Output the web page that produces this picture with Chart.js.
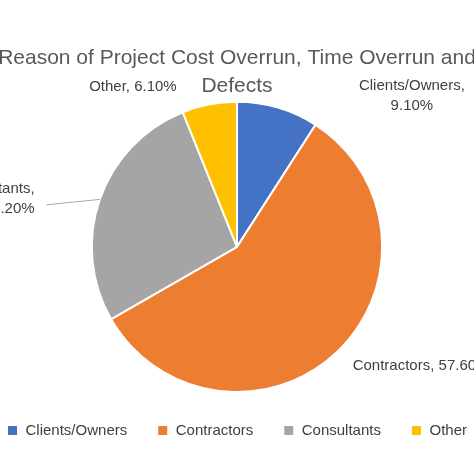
<!DOCTYPE html>
<html>
<head>
<meta charset="utf-8">
<script src="https://cdn.jsdelivr.net/npm/chart.js@4/dist/chart.umd.min.js"></script>
<style>
  html, body { margin: 0; padding: 0; overflow: hidden; background: #fff; }
  #wrap { position: absolute; left: -63px; top: 0; width: 600px; height: 474px; }
</style>
</head>
<body>
<div id="wrap"><canvas id="chart"></canvas></div>
<script>
// ======== Data ========
const categories = ['Clients/Owners', 'Contractors', 'Consultants', 'Other'];
const shares = [9.1, 57.6, 27.2, 6.1];
const colours = ['#4472C4', '#ED7D31', '#A5A5A5', '#FFC000'];

// outside labels with leader lines, placed from each arc's mid angle
const outsideLabels = {
    id: 'outsideLabels',
    afterDatasetsDraw(chart) {
        const ctx = chart.ctx;
        const meta = chart.getDatasetMeta(0);
        ctx.save();
        ctx.font = '15px "Liberation Sans", Arial, sans-serif';
        ctx.fillStyle = '#404040';
        ctx.strokeStyle = '#A6A6A6';
        ctx.lineWidth = 1;
        meta.data.forEach((arc, i) => {
            const mid = (arc.startAngle + arc.endAngle) / 2;
            const r = arc.outerRadius;
            const cos = Math.cos(mid), sin = Math.sin(mid);
            const right = cos >= 0;
            const text = `${categories[i]}, ${shares[i].toFixed(2)}%`;
            const x0 = arc.x + cos * r, y0 = arc.y + sin * r;
            const x1 = arc.x + cos * (r + 14), y1 = arc.y + sin * (r + 14);
            ctx.textAlign = right ? 'left' : 'right';
            ctx.textBaseline = 'middle';
            if (i === 0) {
                ctx.textAlign = 'center';
                ctx.fillText(categories[i] + ',', x1 + 130, y1 - 8);
                ctx.fillText(shares[i].toFixed(2) + '%', x1 + 130, y1 + 12);
            } else if (i === 2) {
                ctx.beginPath(); ctx.moveTo(x0, y0); ctx.lineTo(x1 - 40, y1 + 10); ctx.stroke();
                ctx.fillText(categories[i] + ',', x1 - 52, y1 - 6);
                ctx.fillText(shares[i].toFixed(2) + '%', x1 - 52, y1 + 14);
            } else if (i === 3) {
                ctx.fillText(text, x1 - 30, y1 - 4);
            } else {
                ctx.fillText(text, x1 + 6, y1 + 4);
            }
        });
        ctx.restore();
    }
};

new Chart(document.getElementById('chart').getContext('2d'), {
    type: 'pie',
    data: {
        labels: categories,
        datasets: [{
            data: shares,
            backgroundColor: colours,
            borderColor: '#ffffff',
            borderWidth: 2,
        }],
    },
    options: {
        responsive: true,
        maintainAspectRatio: false,
        animation: false,
        layout: { padding: { top: 42, bottom: 26, left: 20, right: 20 } },
        plugins: {
            title: {
                display: true,
                text: ['Reason of Project Cost Overrun, Time Overrun and', 'Defects'],
                color: '#595959',
                font: { size: 21, family: '"Liberation Sans", Arial, sans-serif', weight: 'normal', lineHeight: 1.35 },
                padding: { top: 2, bottom: 0 },
            },
            legend: {
                position: 'bottom',
                labels: {
                    color: '#404040',
                    boxWidth: 11, boxHeight: 11, padding: 30,
                    font: { size: 15, family: '"Liberation Sans", Arial, sans-serif' },
                },
            },
            tooltip: { enabled: false },
        },
    },
    plugins: [outsideLabels],
});
</script>
</body>
</html>
